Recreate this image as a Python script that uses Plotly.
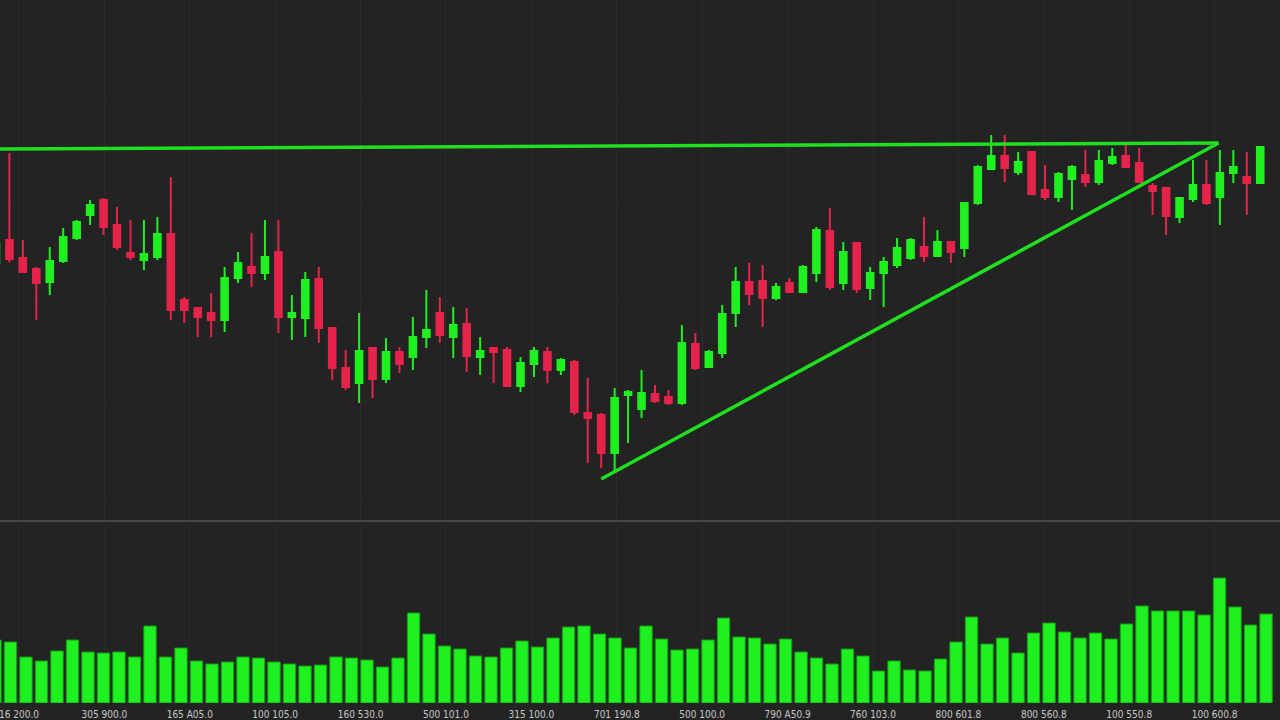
import plotly.graph_objects as go

# ---------------- data ----------------
opens = [84.25, 90, 85.5, 82.75, 79.5, 84.75, 90.5, 96.25, 100, 93.75,
         86.75, 85, 85.75, 91.5, 75, 73, 71.75, 70, 80.5, 83.25,
         81.75, 87, 70.75, 70.5, 80.25, 68, 58, 54.25, 63, 55.25,
         62, 60.75, 65.75, 71.75, 65.75, 69, 60.75, 63, 62.5, 53.5,
         59, 62, 57.5, 59.5, 46.75, 46.25, 36.75, 51.25, 47.75, 51.5,
         50.75, 49.25, 64, 58.25, 61.75, 71.75, 79.5, 79.75, 75.5, 79.25,
         77, 81.75, 92.25, 79.25, 89.25, 78, 81.75, 83.75, 85.5, 88.25,
         86, 89.5, 88, 99.25, 107.75, 111, 107, 112, 102.5, 100.75,
         105.25, 106.25, 104.5, 109.25, 111, 109.25, 103.5, 103, 95.75, 100.25,
         103.75, 100.75, 106.75, 105.75, 104.25]
highs = [90.5, 111.75, 90, 83.25, 88.25, 93, 95, 100, 100.5, 98.25,
         95, 95, 95.75, 105.75, 75.75, 73.25, 76.75, 83.25, 87, 91.75,
         95, 95, 76.25, 82, 83.25, 68.25, 62.5, 71.75, 63.25, 65.5,
         63.25, 70.75, 77.5, 75.75, 73.25, 73, 65.75, 63.25, 63.25, 60.75,
         63.25, 63.25, 60.5, 60, 55.5, 46.75, 53, 52.5, 57.5, 53.75,
         52.5, 68.75, 66.75, 62.5, 73.75, 83.25, 84.25, 83.75, 79.25, 80.5,
         83.75, 93.25, 98, 89.5, 89.5, 83.25, 85.75, 90.5, 90.5, 95.75,
         92.5, 89.5, 99.5, 108.75, 116.25, 116.25, 112, 112, 108.75, 107,
         108.75, 112.5, 112.5, 113, 113.75, 113, 104.25, 103.25, 100.75, 110,
         110, 112.5, 112.5, 112, 113.25]
lows = [83, 84.5, 81.75, 70, 76.25, 84.25, 90, 93.75, 91.25, 87.5,
        85, 82.5, 85, 70, 69.25, 65.75, 65.75, 67, 79.25, 78.25,
        80, 66.75, 65, 65.75, 64.25, 55, 52.5, 49.25, 50.5, 54.25,
        56.75, 57.5, 63, 64.25, 60.5, 57, 56.25, 54.25, 53.25, 52,
        55.75, 54.25, 56.25, 46.25, 34.25, 33, 32, 39.25, 45.5, 49.25,
        48.75, 48.75, 57.5, 58, 60.5, 68.25, 73.75, 68.25, 75, 76.75,
        76.75, 79.5, 77.5, 77.5, 76.75, 75, 73.25, 83, 85, 84.5,
        85.75, 84.25, 85.75, 98.75, 107.5, 104.5, 106.25, 101.25, 100, 99.5,
        97.5, 103.25, 103.75, 108.75, 108, 104.25, 96.25, 91.25, 94.25, 99.5,
        98.75, 93.75, 104.25, 96.25, 104]
closes = [89.25, 85.25, 82, 79.25, 84.75, 90.75, 94.5, 98.75, 93.25, 88.25,
          85.75, 86.5, 91.5, 72.5, 72.5, 70.75, 70, 80.5, 84.25, 81.75,
          85.75, 70.75, 71.75, 80, 68, 58, 53.25, 62.25, 55.25, 62,
          59, 65.75, 67.5, 66.25, 68.75, 61, 62.25, 62, 53.5, 59.25,
          62.25, 57.5, 60, 47, 45.5, 36.75, 50.5, 52, 51.75, 49.75,
          49.25, 64.25, 58, 62, 71.5, 79.5, 76.5, 75.5, 78.25, 77,
          83.25, 92.5, 78.25, 87, 77.75, 81.75, 84.5, 88, 90, 86,
          89.5, 87, 99.25, 108.25, 111, 108, 109.5, 101.5, 100.75, 106.5,
          108.25, 104.5, 109.75, 110.75, 108.25, 104.5, 102.25, 96, 100.5, 103.75,
          99.25, 106.75, 108.25, 104.25, 113.25]
candle_index = list(range(len(opens)))

volume = [630, 610, 460, 420, 520, 630, 510, 500, 510, 460,
          770, 460, 550, 420, 390, 410, 460, 450, 410, 390,
          370, 380, 460, 450, 430, 360, 450, 900, 690, 570,
          540, 470, 460, 550, 620, 560, 650, 760, 770, 690,
          650, 550, 770, 640, 530, 540, 630, 850, 660, 650,
          590, 640, 510, 450, 390, 540, 470, 320, 420, 330,
          320, 440, 610, 860, 590, 650, 500, 700, 800, 710,
          650, 700, 640, 790, 970, 920, 920, 920, 880, 1250,
          960, 780, 890]
volume_index = list(range(len(volume)))

# trend lines (candle index, price)
resistance_x = [0, 90.9]
resistance_y = [112.75, 114.25]
support_x = [45.0, 90.9]
support_y = [30.25, 114.25]

tick_labels = ["16 200.0", "305 900.0", "165 A05.0", "100 105.0", "160 530.0",
               "500 101.0", "315 100.0", "701 190.8", "500 100.0", "790 A50.9",
               "760 103.0", "800 601.8", "800 560.8", "100 550.8", "100 600.8"]

# ---------------- styling ----------------
BG = "#232323"
GREEN = "#1ff01f"
RED = "#e6244b"
LINE_GREEN = "#1ee01e"
X1_RANGE = [0.3, 95.47]
X2_RANGE = [0.323, 82.9]

tick_pos_1 = [1.71 + 6.35 * k for k in range(len(tick_labels))]
tick_pos_2 = [X2_RANGE[0] + (t - X1_RANGE[0]) * (X2_RANGE[1] - X2_RANGE[0]) / (X1_RANGE[1] - X1_RANGE[0])
              for t in tick_pos_1]

fig = go.Figure()

fig.add_trace(go.Candlestick(
    x=candle_index, open=opens, high=highs, low=lows, close=closes,
    increasing=dict(line=dict(color=GREEN, width=2), fillcolor=GREEN),
    decreasing=dict(line=dict(color=RED, width=2), fillcolor=RED),
    whiskerwidth=0, xaxis="x", yaxis="y", showlegend=False, hoverinfo="skip"))

fig.add_trace(go.Scatter(x=resistance_x, y=resistance_y, mode="lines",
                         line=dict(color=LINE_GREEN, width=3.5),
                         xaxis="x", yaxis="y", showlegend=False, hoverinfo="skip"))
fig.add_trace(go.Scatter(x=support_x, y=support_y, mode="lines",
                         line=dict(color=LINE_GREEN, width=3.5),
                         xaxis="x", yaxis="y", showlegend=False, hoverinfo="skip"))

fig.add_trace(go.Bar(x=volume_index, y=volume,
                     marker=dict(color=GREEN, line=dict(color="#149c14", width=1)),
                     xaxis="x2", yaxis="y2", showlegend=False, hoverinfo="skip"))

fig.update_layout(
    width=1280, height=720,
    margin=dict(l=0, r=0, t=0, b=17, autoexpand=False),
    paper_bgcolor=BG, plot_bgcolor=BG,
    bargap=0.2,
    xaxis=dict(domain=[0, 1], range=X1_RANGE, anchor="y", automargin=False,
               rangeslider=dict(visible=False),
               tickvals=tick_pos_1, showticklabels=False, ticks="",
               showgrid=True, gridcolor="#2b2b2b", gridwidth=1,
               zeroline=False, showline=True, linecolor="#474747", linewidth=2),
    yaxis=dict(domain=[0.2603, 1], range=[20, 150], showticklabels=False,
               automargin=False,
               showgrid=True, gridcolor="#272727", dtick=25, zeroline=False),
    xaxis2=dict(domain=[0, 1], range=X2_RANGE, anchor="y2", automargin=False,
                tickvals=tick_pos_2, ticktext=tick_labels, ticks="",
                ticklabeloverflow="allow", ticklabelstandoff=4,
                tickfont=dict(family="Liberation Sans Narrow, DejaVu Sans Condensed, sans-serif",
                              size=10, color="#c8c8c8"),
                showgrid=True, gridcolor="#2a2a2a", zeroline=False, showline=False),
    yaxis2=dict(domain=[0, 0.2532], range=[0, 1780], showticklabels=False,
                automargin=False, showgrid=False, zeroline=False),
)

fig.write_html("out.html", config={"displayModeBar": False},
               post_script="document.body.style.margin='0';document.body.style.background='#232323';")
